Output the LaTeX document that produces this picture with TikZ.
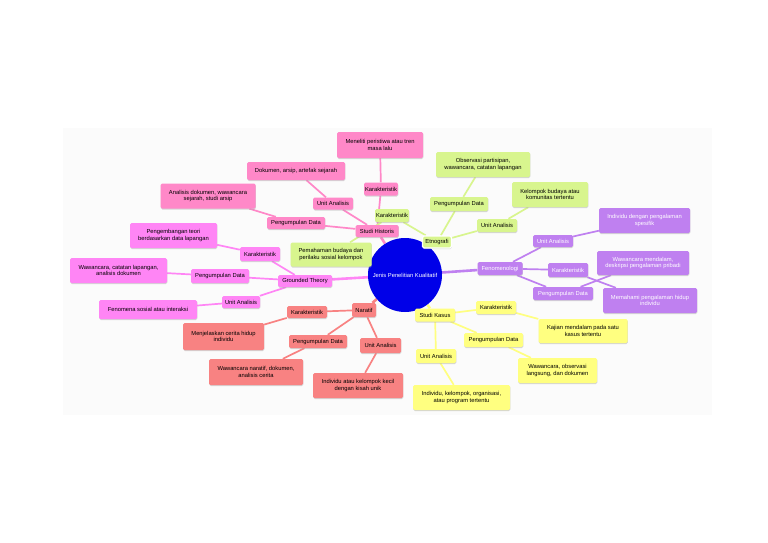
\documentclass[tikz,border=0pt]{standalone}
\usepackage{fontspec}
\setmainfont{Liberation Sans}
\usetikzlibrary{backgrounds,shadows}

\definecolor{histpink}{HTML}{FF88C8}
\definecolor{etnogreen}{HTML}{D8F58E}
\definecolor{fenopurple}{HTML}{BF80F0}
\definecolor{kasusyellow}{HTML}{FFFF80}
\definecolor{narasalmon}{HTML}{F88282}
\definecolor{groundmag}{HTML}{FF85F5}
\definecolor{centreblue}{HTML}{0000E8}

\begin{document}
\begin{tikzpicture}[x=1pt,y=-1pt,
    font=\fontsize{5.8}{6.8}\selectfont,
    base/.style={rectangle,rounded corners=1.5pt,align=center,inner sep=1pt,minimum height=12pt,
      drop shadow={shadow xshift=0.3pt,shadow yshift=-1pt,fill=black!35,opacity=.45}},
    hist/.style={base,fill=histpink},
    etno/.style={base,fill=etnogreen},
    feno/.style={base,fill=fenopurple,text=white},
    kasus/.style={base,fill=kasusyellow},
    nara/.style={base,fill=narasalmon},
    ground/.style={base,fill=groundmag},
    trunk/.style={line width=2.6pt},
    twig/.style={line width=1.7pt}
  ]

  \useasboundingbox (0,0) rectangle (768,543);

  \node(c) [circle,fill=centreblue,text=white,minimum size=74pt,inner sep=0pt] at (405,275) {Jenis Penelitian Kualitatif};

  % Studi Historis
  \node(h) [hist,minimum width=43pt] at (377,231) {Studi Historis};
  \node(hk) [hist,minimum width=32pt,minimum height=13pt] at (381,189) {Karakteristik};
  \node(hk1) [hist,minimum width=86pt,minimum height=26pt] at (380,145) {Meneliti peristiwa atau tren\\masa lalu};
  \node(hu) [hist,minimum width=40pt] at (333,203.5) {Unit Analisis};
  \node(hu1) [hist,minimum width=98pt,minimum height=18pt] at (296,171) {Dokumen, arsip, artefak sejarah};
  \node(hp) [hist,minimum width=58pt] at (296,223) {Pengumpulan Data};
  \node(hp1) [hist,minimum width=95pt,minimum height=25pt] at (208,196) {Analisis dokumen, wawancara\\sejarah, studi arsip};

  % Etnografi
  \node(e) [etno,minimum width=29pt,draw=white,line width=1.2pt] at (437,242) {Etnografi};
  \node(ek) [etno,minimum width=31pt,minimum height=13pt] at (392,215.5) {Karakteristik};
  \node(ek1) [etno,minimum width=81pt,minimum height=24pt] at (331,254.5) {Pemahaman budaya dan\\perilaku sosial kelompok};
  \node(ep) [etno,minimum width=58pt,minimum height=14pt] at (459,204) {Pengumpulan Data};
  \node(ep1) [etno,minimum width=94pt,minimum height=25pt] at (483,164.5) {Observasi partisipan,\\wawancara, catatan lapangan};
  \node(eu) [etno,minimum width=40pt,minimum height=13pt] at (497,225.5) {Unit Analisis};
  \node(eu1) [etno,minimum width=76pt,minimum height=25pt] at (550,194.5) {Kelompok budaya atau\\komunitas tertentu};

  % Fenomenologi
  \node(f) [feno,minimum width=45pt,minimum height=13pt] at (500,268.5) {Fenomenologi};
  \node(fu) [feno,minimum width=40pt] at (553,241) {Unit Analisis};
  \node(fu1) [feno,minimum width=91pt,minimum height=25pt] at (644.5,220.5) {Individu dengan pengalaman\\spesifik};
  \node(fk) [feno,minimum width=40pt,minimum height=14pt] at (568,270) {Karakteristik};
  \node(fk1) [feno,minimum width=94pt,minimum height=25pt] at (650,300.5) {Memahami pengalaman hidup\\individu};
  \node(fp) [feno,minimum width=60pt,minimum height=13pt] at (563,293.5) {Pengumpulan Data};
  \node(fp1) [feno,minimum width=92pt,minimum height=24pt] at (643,263) {Wawancara mendalam,\\deskripsi pengalaman pribadi};

  % Studi Kasus
  \node(k) [kasus,minimum width=40pt,minimum height=13pt] at (435,315) {Studi Kasus};
  \node(kk) [kasus,minimum width=40pt,minimum height=13pt] at (496,307.5) {Karakteristik};
  \node(kk1) [kasus,minimum width=89pt,minimum height=24pt] at (583,331) {Kajian mendalam pada satu\\kasus tertentu};
  \node(kp) [kasus,minimum width=59pt,minimum height=14pt] at (493.5,340) {Pengumpulan Data};
  \node(kp1) [kasus,minimum width=79pt,minimum height=25pt] at (557.5,370.5) {Wawancara, observasi\\langsung, dan dokumen};
  \node(ku) [kasus,minimum width=40pt,minimum height=14pt] at (436,356) {Unit Analisis};
  \node(ku1) [kasus,minimum width=97pt,minimum height=25pt] at (461.5,397.5) {Individu, kelompok, organisasi,\\atau program tertentu};

  % Naratif
  \node(n) [nara,minimum width=24pt,minimum height=14pt] at (364,310) {Naratif};
  \node(nk) [nara,minimum width=40pt] at (307,312) {Karakteristik};
  \node(nk1) [nara,minimum width=81pt,minimum height=27pt] at (223.5,336.5) {Menjelaskan cerita hidup\\individu};
  \node(np) [nara,minimum width=58pt,minimum height=13pt] at (318,341.5) {Pengumpulan Data};
  \node(np1) [nara,minimum width=94pt,minimum height=26pt] at (256,372) {Wawancara naratif, dokumen,\\analisis cerita};
  \node(nu) [nara,minimum width=41pt,minimum height=15pt] at (380.5,345.5) {Unit Analisis};
  \node(nu1) [nara,minimum width=90pt,minimum height=25pt] at (358,385.5) {Individu atau kelompok kecil\\dengan kisah unik};

  % Grounded Theory
  \node(g) [ground,minimum width=54pt] at (305,281) {Grounded Theory};
  \node(gk) [ground,minimum width=40pt,minimum height=14pt] at (260,254) {Karakteristik};
  \node(gk1) [ground,minimum width=87pt,minimum height=25pt] at (173.5,235.5) {Pengembangan teori\\berdasarkan data lapangan};
  \node(gp) [ground,minimum width=58pt,minimum height=14pt] at (220,276) {Pengumpulan Data};
  \node(gp1) [ground,minimum width=97pt,minimum height=25pt] at (118.5,270.5) {Wawancara, catatan lapangan,\\analisis dokumen};
  \node(gu) [ground,minimum width=38pt] at (241,302) {Unit Analisis};
  \node(gu1) [ground,minimum width=98pt,minimum height=19pt] at (148,309.5) {Fenomena sosial atau interaksi};

  \begin{scope}[on background layer]
    \fill[black!1.5] (63,128) rectangle (712,415);

    \draw[trunk,histpink] (c) -- (h);
    \draw[twig,histpink] (h) -- (hk) -- (hk1);
    \draw[twig,histpink] (h) -- (hu) -- (hu1);
    \draw[twig,histpink] (h) -- (hp) -- (hp1);

    \draw[trunk,etnogreen] (c) -- (e);
    \draw[twig,etnogreen] (e) -- (ek) -- (ek1);
    \draw[twig,etnogreen] (e) -- (ep) -- (ep1);
    \draw[twig,etnogreen] (e) -- (eu) -- (eu1);

    \draw[trunk,fenopurple] (c) -- (f);
    \draw[twig,fenopurple] (f) -- (fu) -- (fu1);
    \draw[twig,fenopurple] (f) -- (fk) -- (fk1);
    \draw[twig,fenopurple] (f) -- (fp) -- (fp1);

    \draw[trunk,kasusyellow] (c) -- (k);
    \draw[twig,kasusyellow] (k) -- (kk) -- (kk1);
    \draw[twig,kasusyellow] (k) -- (kp) -- (kp1);
    \draw[twig,kasusyellow] (k) -- (ku) -- (ku1);

    \draw[trunk,narasalmon] (c) -- (n);
    \draw[twig,narasalmon] (n) -- (nk) -- (nk1);
    \draw[twig,narasalmon] (n) -- (np) -- (np1);
    \draw[twig,narasalmon] (n) -- (nu) -- (nu1);

    \draw[trunk,groundmag] (c) -- (g);
    \draw[twig,groundmag] (g) -- (gk) -- (gk1);
    \draw[twig,groundmag] (g) -- (gp) -- (gp1);
    \draw[twig,groundmag] (g) -- (gu) -- (gu1);
  \end{scope}

\end{tikzpicture}
\end{document}
